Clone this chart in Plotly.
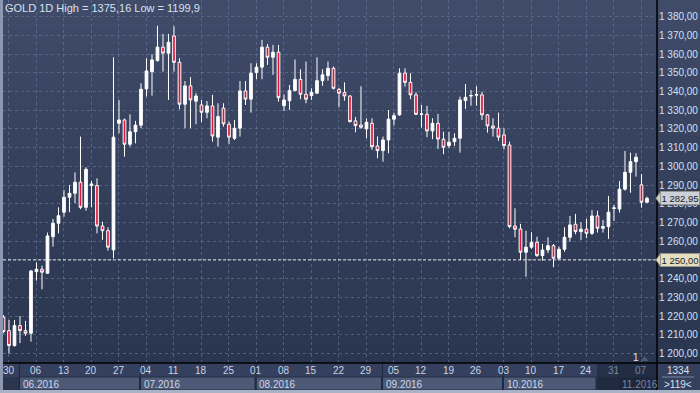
import plotly.graph_objects as go
import pandas as pd

# ---------------- data ----------------
dates = [d.strftime("%Y-%m-%d") for d in pd.bdate_range("2016-05-27", "2016-11-08")]

opens = [1219.4, 1212.2, 1204.2, 1214.9, 1212.2, 1210.8, 1243.7, 1245.0, 1242.9, 1262.4, 1269.6,
         1275.5, 1283.5, 1285.6, 1291.5, 1278.1,
         1289.7, 1289.7, 1268.1, 1265.6, 1255.3,
         1323.0, 1324.8, 1311.8, 1318.5, 1322.0,
         1341.4, 1350.6, 1356.5, 1363.7, 1360.5,
         1369.7, 1355.6, 1333.2, 1343.0, 1334.8,
         1332.8, 1328.9, 1332.3, 1315.6, 1331.1,
         1322.5, 1315.0, 1320.4, 1340.3, 1335.9,
         1350.1, 1353.0, 1363.7, 1358.3, 1361.0,
         1332.4, 1335.1, 1340.5, 1346.5, 1338.5,
         1337.8, 1339.1, 1345.8, 1348.5, 1352.4,
         1341.1, 1339.4, 1337.6, 1324.3, 1322.1,
         1320.0, 1323.0, 1310.9, 1308.4, 1314.1,
         1325.2, 1327.5, 1349.8, 1344.9, 1338.2,
         1327.8, 1327.8, 1318.9, 1323.0, 1314.5,
         1311.1, 1313.2, 1315.0, 1335.1, 1337.6,
         1338.0, 1338.2, 1327.5, 1321.6, 1320.4,
         1316.8, 1311.4, 1268.1, 1266.5, 1254.1,
         1256.8, 1259.4, 1252.3, 1255.3, 1257.6,
         1250.9, 1255.7, 1262.1, 1269.1, 1265.1,
         1266.4, 1264.2, 1273.5, 1266.9, 1267.8,
         1277.5, 1277.2, 1287.8, 1296.8, 1302.5,
         1290.1, 1280.8]

highs = [1220.5, 1217.9, 1217.9, 1220.0, 1217.4, 1244.6, 1248.7, 1246.9, 1264.6, 1271.9, 1278.1,
         1287.4, 1290.1, 1296.8, 1315.9, 1299.5,
         1292.2, 1293.6, 1270.4, 1267.4, 1358.3,
         1335.5, 1325.5, 1327.8, 1324.3, 1344.4,
         1357.8, 1359.9, 1375.16, 1370.8, 1370.8,
         1374.9, 1357.8, 1345.6, 1347.7, 1339.1,
         1335.5, 1334.9, 1338.2, 1333.7, 1333.7,
         1323.9, 1324.8, 1345.6, 1345.6, 1355.1,
         1355.1, 1367.6, 1365.4, 1364.9, 1364.9,
         1338.5, 1343.5, 1357.1, 1351.9, 1356.0,
         1341.7, 1358.3, 1351.9, 1356.0, 1353.3,
         1342.0, 1344.9, 1338.0, 1326.3, 1342.8,
         1325.7, 1325.7, 1316.0, 1315.9, 1330.1,
         1328.7, 1352.4, 1352.4, 1349.8, 1339.6,
         1332.8, 1332.3, 1325.7, 1328.0, 1318.5,
         1318.5, 1317.7, 1337.3, 1344.0, 1340.8,
         1342.8, 1339.9, 1328.0, 1325.7, 1328.7,
         1320.4, 1313.2, 1277.6, 1269.2, 1265.6,
         1264.8, 1262.4, 1258.5, 1262.1, 1258.5,
         1257.1, 1267.4, 1273.5, 1274.6, 1270.1,
         1271.9, 1276.7, 1276.3, 1271.4, 1284.2,
         1279.4, 1292.2, 1308.2, 1307.3, 1307.0,
         1295.9, 1283.8]

lows = [1210.8, 1199.9, 1203.6, 1205.5, 1209.4, 1206.3, 1238.9, 1234.3, 1242.5, 1257.1, 1264.2,
        1273.1, 1275.5, 1280.3, 1277.1, 1276.3,
        1278.1, 1264.2, 1260.7, 1254.9, 1250.9,
        1317.7, 1305.2, 1310.5, 1312.3, 1320.4,
        1337.3, 1337.8, 1356.0, 1350.6, 1335.5,
        1350.6, 1330.5, 1320.4, 1320.4, 1322.5,
        1323.6, 1325.7, 1313.2, 1310.5, 1321.2,
        1312.0, 1314.0, 1315.9, 1332.8, 1328.7,
        1346.6, 1346.6, 1354.2, 1348.9, 1334.6,
        1329.6, 1330.1, 1340.0, 1335.9, 1333.7,
        1335.5, 1338.8, 1343.0, 1345.8, 1341.1,
        1331.6, 1335.1, 1323.4, 1318.2, 1320.0,
        1315.0, 1308.8, 1304.3, 1302.5, 1307.0,
        1321.8, 1327.0, 1342.6, 1335.9, 1327.5,
        1320.7, 1315.6, 1314.5, 1309.3, 1306.5,
        1309.7, 1310.9, 1307.3, 1330.7, 1332.4,
        1332.4, 1324.8, 1318.0, 1315.9, 1313.6,
        1309.1, 1266.9, 1262.1, 1250.0, 1241.0,
        1255.9, 1251.6, 1249.6, 1253.6, 1246.1,
        1250.0, 1254.4, 1259.8, 1263.7, 1260.7,
        1261.6, 1263.3, 1264.6, 1264.6, 1261.2,
        1270.8, 1275.3, 1287.0, 1285.9, 1294.5,
        1277.9, 1280.5]

closes = [1211.7, 1204.2, 1214.9, 1212.2, 1210.8, 1244.1, 1245.0, 1243.4, 1262.8, 1269.6, 1273.6,
          1283.5, 1285.6, 1291.5, 1278.1, 1298.4,
          1290.6, 1268.1, 1265.6, 1256.8, 1315.6,
          1324.8, 1311.8, 1318.5, 1322.0, 1341.2,
          1351.0, 1356.9, 1363.7, 1360.5, 1366.3,
          1355.6, 1333.2, 1343.0, 1335.5, 1337.6,
          1328.9, 1332.3, 1316.2, 1326.6, 1322.7,
          1315.6, 1320.4, 1340.3, 1335.9, 1349.8,
          1353.0, 1363.7, 1358.3, 1361.0, 1336.7,
          1335.5, 1340.5, 1346.5, 1338.5, 1335.9,
          1339.6, 1345.8, 1348.9, 1352.4, 1341.7,
          1339.1, 1337.6, 1323.9, 1321.8, 1320.9,
          1323.6, 1310.5, 1308.4, 1314.1, 1325.2,
          1327.1, 1349.8, 1344.9, 1338.2, 1327.8,
          1328.0, 1318.9, 1323.0, 1314.6, 1310.2,
          1312.9, 1315.0, 1335.5, 1336.9, 1337.8,
          1338.4, 1327.5, 1321.6, 1320.4, 1315.6,
          1311.1, 1267.8, 1266.4, 1254.1, 1256.8,
          1259.4, 1252.3, 1255.3, 1257.6, 1250.9,
          1255.7, 1262.1, 1268.7, 1265.1, 1266.4,
          1264.2, 1273.5, 1266.9, 1267.8, 1275.5,
          1277.8, 1287.8, 1296.8, 1302.5, 1304.9,
          1280.8, 1282.95]

tick_dates = ["2016-05-30", "2016-06-06", "2016-06-13", "2016-06-20", "2016-06-27",
              "2016-07-04", "2016-07-11", "2016-07-18", "2016-07-25", "2016-08-01",
              "2016-08-08", "2016-08-15", "2016-08-22", "2016-08-29", "2016-09-05",
              "2016-09-12", "2016-09-19", "2016-09-26", "2016-10-03", "2016-10-10",
              "2016-10-17", "2016-10-24", "2016-10-31", "2016-11-07"]
tick_labels = ["30", "06", "13", "20", "27", "04", "11", "18", "25", "01", "08", "15",
               "22", "29", "05", "12", "19", "26", "03", "10", "17", "24", "31", "07"]
month_starts = ["2016-06-01", "2016-07-01", "2016-08-01", "2016-09-01", "2016-10-03", "2016-11-01"]
month_labels = ["06.2016", "07.2016", "08.2016", "09.2016", "10.2016", "11.2016"]
price_ticks = list(range(1200, 1390, 10))
price_labels = ["1 %03d,00" % (v - 1000) for v in price_ticks]
last_price = 1282.95
level_price = 1250.0
title_text = "GOLD 1D High = 1375,16 Low = 1199,9"

# ---------------- geometry helpers ----------------
W, H = 700, 393
ML, MR, MT, MB = 3, 43, 0, 30
PW, PH = W - ML - MR, H - MT - MB
XR = [-0.09, 118.82]
YR = [1194.9, 1388.9]


def PX(px):
    return (px - ML) / PW


def PY(py):
    return (H - MB - py) / PH


def idx_px(k):
    return ML + (k - XR[0]) / (XR[1] - XR[0]) * PW


def price_py(p):
    return MT + (YR[1] - p) / (YR[1] - YR[0]) * PH


shapes = []


def rect(x0, y0, x1, y1, fill, line=None, lw=0, layer="below"):
    shapes.append(dict(type="rect", xref="paper", yref="paper",
                       x0=PX(x0), x1=PX(x1), y0=PY(y1), y1=PY(y0),
                       fillcolor=fill, line=dict(color=line or fill, width=lw), layer=layer))


def hline(x0, x1, y, color, w=1, dash=None, layer="above"):
    shapes.append(dict(type="line", xref="paper", yref="paper", x0=PX(x0), x1=PX(x1),
                       y0=PY(y), y1=PY(y), line=dict(color=color, width=w, dash=dash), layer=layer))


def vline(x, y0, y1, color, w=1, layer="above"):
    shapes.append(dict(type="line", xref="paper", yref="paper", x0=PX(x), x1=PX(x),
                       y0=PY(y0), y1=PY(y1), line=dict(color=color, width=w), layer=layer))


# gradient background for plot + right axis
nb = 24
c_top, c_bot = (63, 75, 105), (42, 53, 79)
for b in range(nb):
    t = b / (nb - 1)
    col = "rgb(%d,%d,%d)" % tuple(round(c_top[j] + (c_bot[j] - c_top[j]) * t) for j in range(3))
    y0 = (H - MB) * b / nb
    y1 = (H - MB) * (b + 1) / nb + 0.5
    rect(ML, y0, W, y1, col)

# x axis strip
rect(ML, 363, W, 377, "rgb(52,64,93)")
rect(ML, 377, W, 390, "rgb(43,53,78)")
mpx = [idx_px(dates.index(m)) - 0.5 for m in month_starts]
ends = mpx[1:] + [656]
for i, (a, b) in enumerate(zip(mpx, ends)):
    if i < 5:
        rect(a, 377, min(b, 597) - 1, 390, "rgb(76,89,119)", "rgb(36,46,68)", 1)
    vline(a, 363, 390, "rgb(32,42,62)")
# last (current) area shading
rect(597, 363, 657, 390, "rgba(22,30,48,0.45)")
rect(618, 363, 657, 390, "rgba(22,30,48,0.25)")
# right footer
rect(657, 363, W, 390, "rgb(52,64,93)")
hline(662, 694, 377, "rgb(120,135,165)", 1)
# left and bottom edges
rect(0, 0, ML, H, "rgb(140,152,178)")
rect(0, 390, W, H, "rgb(168,178,198)")
# frame lines
vline(657, 0, 390, "black", 1.5)
hline(ML, W, 363, "black", 1.5)

# level line at 1250
shapes.append(dict(type="line", xref="paper", yref="y", x0=0, x1=1, y0=level_price, y1=level_price,
                   line=dict(color="rgba(235,235,235,0.95)", width=1, dash="3px,2px"), layer="above"))


def tag_arrow(price, fill):
    yc = price_py(price)
    h = 7
    path = "M %f,%f L %f,%f L %f,%f Z" % (
        PX(656), PY(yc), PX(661), PY(yc - h), PX(661), PY(yc + h))
    shapes.append(dict(type="path", xref="paper", yref="paper", path=path,
                       fillcolor=fill, line=dict(color="rgb(150,150,140)", width=1), layer="above"))


TAG_LAST = "rgb(205,208,214)"
TAG_LEVEL = "rgb(228,222,192)"
tag_arrow(last_price, TAG_LAST)
tag_arrow(level_price, TAG_LEVEL)

# event marker triangle
shapes.append(dict(type="path", xref="paper", yref="paper",
                   path="M %f,%f L %f,%f L %f,%f Z" % (PX(640.5), PY(361), PX(648.5), PY(361), PX(644.5), PY(356)),
                   fillcolor="rgb(78,88,110)", line=dict(width=0), layer="above"))

font = "Arial, Liberation Sans, sans-serif"
annotations = []


def text(x, y, s, color, anchor="left", size=10, fam=None, **kw):
    d = dict(xref="paper", yref="paper", x=PX(x), y=PY(y), xanchor=anchor,
             yanchor="middle", text=s, showarrow=False, borderpad=0,
             font=dict(family=fam or font, size=size, color=color))
    d.update(kw)
    annotations.append(d)


def fmt(p):
    s = "%.2f" % p
    return "1 " + s[1:].replace(".", ",")


# y-axis labels (the 1250 level is shown by its own tag)
for v, lab in zip(price_ticks, price_labels):
    if v != level_price:
        text(658, price_py(v), lab, "rgb(210,224,245)")
# price tags (drawn after labels, so they cover them like the original)
text(660, price_py(last_price), fmt(last_price), "rgb(25,30,40)", size=9.5,
     bgcolor=TAG_LAST, bordercolor="rgb(150,150,140)", borderwidth=1, width=38, height=12, align="center")
text(660, price_py(level_price), fmt(level_price), "rgb(25,30,40)", size=9.5,
     bgcolor=TAG_LEVEL, bordercolor="rgb(150,150,140)", borderwidth=1, width=38, height=12, align="center")
# title
text(4, 8, title_text, "rgb(215,225,240)", size=11)
# x day labels
for d, lab in zip(tick_dates, tick_labels):
    col = "rgb(120,134,160)" if d >= "2016-10-31" else "rgb(200,212,232)"
    text(idx_px(dates.index(d)), 370.5, lab, col, anchor="center")
# month labels
for i, (a, lab) in enumerate(zip(mpx, month_labels)):
    col = "rgb(205,215,232)" if i < 5 else "rgb(120,134,160)"
    text(a + 2.5, 384, lab, col)
text(678, 370, "1334", "rgb(215,225,240)", anchor="center")
text(678, 384, "&gt;119&lt;", "rgb(215,225,240)", anchor="center")
text(636, 357, "1", "rgb(225,230,240)", anchor="center")

fig = go.Figure(go.Candlestick(
    x=dates, open=opens, high=highs, low=lows, close=closes,
    increasing=dict(fillcolor="white", line=dict(color="white", width=1)),
    decreasing=dict(fillcolor="rgb(222,22,58)", line=dict(color="white", width=1)),
    hoverinfo="skip", showlegend=False))

grid = "rgba(112,128,160,0.55)"
fig.update_layout(
    width=W, height=H, margin=dict(l=ML, r=MR, t=MT, b=MB),
    paper_bgcolor="rgb(48,60,88)", plot_bgcolor="rgba(0,0,0,0)",
    boxgap=0.3, showlegend=False,
    font=dict(family=font, size=10, color="rgb(205,215,232)"),
    xaxis=dict(type="category", range=XR, rangeslider=dict(visible=False),
               tickmode="array", tickvals=tick_dates, ticktext=tick_labels, showticklabels=False,
               showgrid=True, gridcolor=grid, griddash="3px,3px", gridwidth=1,
               ticks="", showline=False, zeroline=False),
    yaxis=dict(side="right", range=YR, tickmode="array", tickvals=price_ticks, ticktext=price_labels,
               showticklabels=False,
               showgrid=True, gridcolor=grid, griddash="3px,3px", gridwidth=1,
               ticks="", showline=False, zeroline=False),
    shapes=shapes, annotations=annotations,
)

fig.write_html("out.html", config={"displayModeBar": False},
               post_script="document.body.style.margin='0';document.body.style.overflow='hidden';")
